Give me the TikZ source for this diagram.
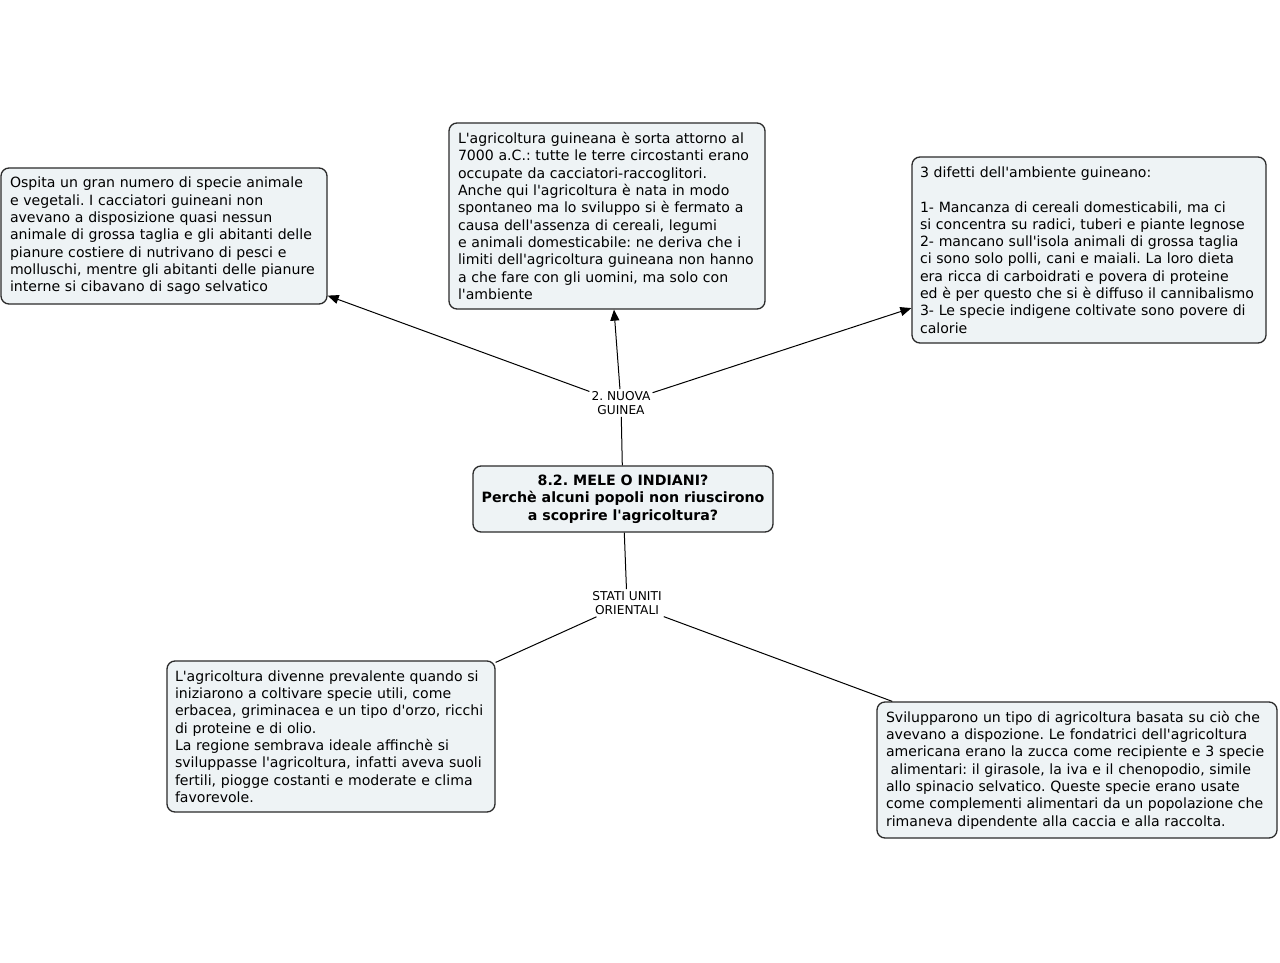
\documentclass[tikz,border=0pt]{standalone}
\usepackage{fontspec}
\setmainfont{DejaVu Sans}[Ligatures=TeXOff]
\usetikzlibrary{arrows.meta}
\definecolor{boxfill}{HTML}{EEF3F5}
\definecolor{boxline}{HTML}{2B2B2B}
\frenchspacing
\tikzset{
  infobox/.style={draw=boxline, fill=boxfill, line width=1.3pt, rounded corners=8pt,
    align=left, inner sep=0pt, font=\fontsize{14.1}{17.3}\selectfont,
    execute at begin node={\hyphenpenalty=10000\exhyphenpenalty=10000}},
  mainbox/.style={draw=boxline, fill=boxfill, line width=1.3pt, rounded corners=8pt,
    align=center, inner sep=0pt, font=\fontsize{14.2}{17.3}\selectfont\bfseries},
  linklabel/.style={align=center, inner sep=2pt, font=\fontsize{12.2}{14}\selectfont},
  conn/.style={draw=black, line width=1pt},
  arr/.style={conn, -{Triangle[length=11pt,width=9pt]}}
}
\begin{document}
\begin{tikzpicture}[x=1pt,y=-1pt]
\useasboundingbox (0,0) rectangle (1280,963);
\fill[white] (0,0) rectangle (1280,963);

\node[mainbox, minimum width=300pt, minimum height=66pt] (center) at (623,499)
  {8.2. MELE O INDIANI?\\Perchè alcuni popoli non riuscirono\\a scoprire l'agricoltura?};

\node[linklabel] (lab1) at (621,403) {2. NUOVA\\GUINEA};
\node[linklabel] (lab2) at (627,603) {STATI UNITI\\ORIENTALI};

\node[infobox, minimum width=326pt, minimum height=136pt, text width=308pt] (left) at (164,236)
  {Ospita un gran numero di specie animale\\e vegetali. I cacciatori guineani non\\avevano a disposizione quasi nessun\\animale di grossa taglia e gli abitanti delle\\pianure costiere di nutrivano di pesci e\\molluschi, mentre gli abitanti delle pianure\\interne si cibavano di sago selvatico};

\node[infobox, minimum width=316pt, minimum height=186pt, text width=298pt] (top) at (607,216)
  {L'agricoltura guineana è sorta attorno al\\7000 a.C.: tutte le terre circostanti erano\\occupate da cacciatori-raccoglitori.\\Anche qui l'agricoltura è nata in modo\\spontaneo ma lo sviluppo si è fermato a\\causa dell'assenza di cereali, legumi\\e animali domesticabile: ne deriva che i\\limiti dell'agricoltura guineana non hanno\\a che fare con gli uomini, ma solo con\\l'ambiente};

\node[infobox, minimum width=354pt, minimum height=186pt, text width=338pt] (right) at (1089,250)
  {3 difetti dell'ambiente guineano:\\[17.3pt]1- Mancanza di cereali domesticabili, ma ci\\si concentra su radici, tuberi e piante legnose\\2- mancano sull'isola animali di grossa taglia\\ci sono solo polli, cani e maiali. La loro dieta\\era ricca di carboidrati e povera di proteine\\ed è per questo che si è diffuso il cannibalismo\\3- Le specie indigene coltivate sono povere di\\calorie};

\node[infobox, minimum width=328pt, minimum height=151pt, text width=312pt] (bleft) at (331,736.5)
  {L'agricoltura divenne prevalente quando si\\iniziarono a coltivare specie utili, come\\erbacea, griminacea e un tipo d'orzo, ricchi\\di proteine e di olio.\\La regione sembrava ideale affinchè si\\sviluppasse l'agricoltura, infatti aveva suoli\\fertili, piogge costanti e moderate e clima\\favorevole.};

\node[infobox, minimum width=400pt, minimum height=136pt, text width=382pt] (bright) at (1077,770)
  {Svilupparono un tipo di agricoltura basata su ciò che\\avevano a dispozione. Le fondatrici dell'agricoltura\\americana erano la zucca come recipiente e 3 specie\\\ alimentari: il girasole, la iva e il chenopodio, simile\\allo spinacio selvatico. Queste specie erano usate\\come complementi alimentari da un popolazione che\\rimaneva dipendente alla caccia e alla raccolta.};

\draw[conn] (center) -- (lab1);
\draw[arr] (lab1) -- (left);
\draw[arr] (lab1) -- (top);
\draw[arr] (lab1) -- (right);
\draw[conn] (center) -- (lab2);
\draw[conn] (lab2) -- (bleft);
\draw[conn] (lab2) -- (bright);
\end{tikzpicture}
\end{document}
